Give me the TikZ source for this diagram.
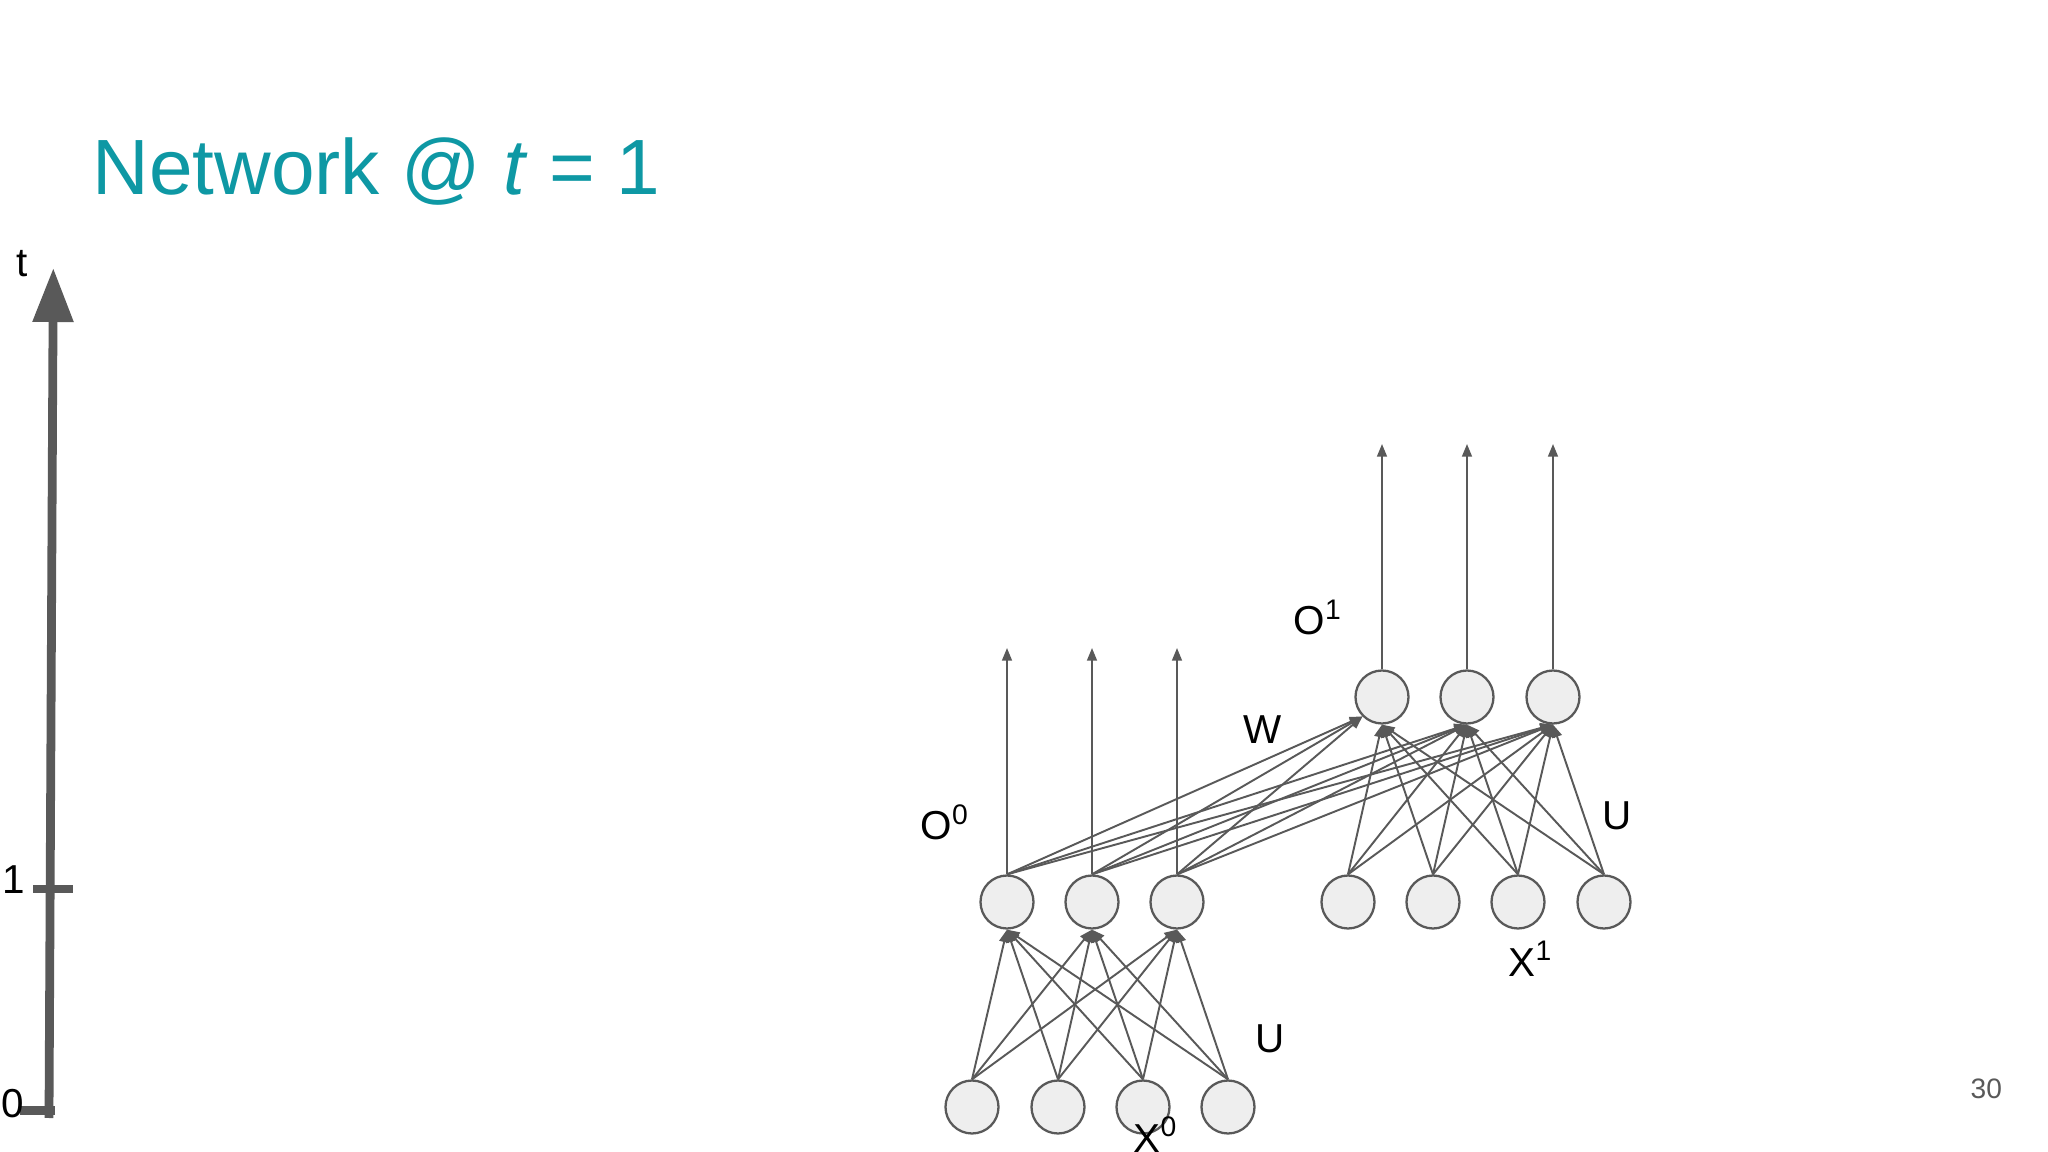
\documentclass[tikz,border=0pt]{standalone}
\usepackage{fontspec}
\setmainfont{Liberation Sans}
\usepackage{xcolor}
\usetikzlibrary{arrows.meta, positioning}
\definecolor{slideteal}{RGB}{14,152,164}
\definecolor{wiregray}{RGB}{89,89,89}
\definecolor{cellfill}{RGB}{238,238,238}

\begin{document}
\begin{tikzpicture}[
        neuron/.style={circle, draw=wiregray, line width=0.65pt, fill=cellfill, minimum size=0.53cm, inner sep=0pt},
        wire/.style={draw=wiregray, line width=0.55pt, -{Triangle[width=2.8pt, length=3.6pt]}},
        lbl/.style={anchor=base west, inner sep=0pt, font=\fontsize{11.5}{13}\selectfont},
        axisline/.style={draw=wiregray, line width=2.5pt},
        every edge/.style=wire
    ]
        \useasboundingbox (0, 0) rectangle (20.48, -11.52);

        % title
        \node[anchor=base west, inner sep=0pt, text=slideteal, font=\fontsize{22.3}{26}\selectfont] (title) at (.92, -1.95) {Network @ \textit{t} = 1};

        % time axis
        \coordinate (tbot) at (.49, -11.18);
        \coordinate (ttop) at (.533, -2.68);
        \coordinate (tick1l) at (.33, -8.89);
        \coordinate (tick1r) at (.73, -8.89);
        \coordinate (tick0l) at (.20, -11.107);
        \coordinate (tick0r) at (.55, -11.107);
        \draw[axisline, -{Triangle[width=.39cm, length=.54cm]}] (tbot) to (ttop);
        \draw[axisline] (tick1l) to (tick1r)
            (tick0l) to (tick0r);
        \node[lbl] (tlab) at (.16, -2.77) {t};
        \node[lbl] (onelab) at (.02, -8.93) {1};
        \node[lbl] (zerolab) at (.01, -11.17) {0};

        % inputs and outputs at t = 0
        \node[neuron] (x0a) at (9.72, -11.07) {};
        \node[neuron] (x0b) at (10.58, -11.07) {};
        \node[neuron] (x0c) at (11.43, -11.07) {};
        \node[neuron] (x0d) at (12.28, -11.07) {};
        \node[neuron] (o0a) at (10.07, -9.02) {};
        \node[neuron] (o0b) at (10.92, -9.02) {};
        \node[neuron] (o0c) at (11.77, -9.02) {};

        % inputs and outputs at t = 1
        \node[neuron] (x1a) at (13.48, -9.02) {};
        \node[neuron] (x1b) at (14.33, -9.02) {};
        \node[neuron] (x1c) at (15.18, -9.02) {};
        \node[neuron] (x1d) at (16.04, -9.02) {};
        \node[neuron] (o1a) at (13.82, -6.97) {};
        \node[neuron] (o1b) at (14.67, -6.97) {};
        \node[neuron] (o1c) at (15.53, -6.97) {};

        \coordinate (o0aup) at (10.07, -6.48);
        \coordinate (o0bup) at (10.92, -6.48);
        \coordinate (o0cup) at (11.77, -6.48);
        \coordinate (o1aup) at (13.82, -4.44);
        \coordinate (o1bup) at (14.67, -4.44);
        \coordinate (o1cup) at (15.53, -4.44);

        % U at t = 0
        \path (x0a.north) edge (o0a.south) edge (o0b.south) edge (o0c.south)
            (x0b.north) edge (o0a.south) edge (o0b.south) edge (o0c.south)
            (x0c.north) edge (o0a.south) edge (o0b.south) edge (o0c.south)
            (x0d.north) edge (o0a.south) edge (o0b.south) edge (o0c.south);
        % U at t = 1
        \path (x1a.north) edge (o1a.south) edge (o1b.south) edge (o1c.south)
            (x1b.north) edge (o1a.south) edge (o1b.south) edge (o1c.south)
            (x1c.north) edge (o1a.south) edge (o1b.south) edge (o1c.south)
            (x1d.north) edge (o1a.south) edge (o1b.south) edge (o1c.south);
        % W
        \path (o0a.north) edge (o1a.south west) edge (o1b.south) edge (o1c.south)
            (o0b.north) edge (o1a.south west) edge (o1b.south) edge (o1c.south)
            (o0c.north) edge (o1a.south west) edge (o1b.south) edge (o1c.south);
        % outputs
        \path (o0a.north) edge (o0aup)
            (o0b.north) edge (o0bup)
            (o0c.north) edge (o0cup)
            (o1a.north) edge (o1aup)
            (o1b.north) edge (o1bup)
            (o1c.north) edge (o1cup);

        \node[lbl] (o0lab) at (9.20, -8.40) {O\textsuperscript{0}};
        \node[lbl] (o1lab) at (12.93, -6.35) {O\textsuperscript{1}};
        \node[lbl] (wlab) at (12.43, -7.43) {W};
        \node[lbl] (u1lab) at (16.02, -8.29) {U};
        \node[lbl] (u0lab) at (12.55, -10.52) {U};
        \node[lbl] (x1lab) at (15.08, -9.76) {X\textsuperscript{1}};
        \node[lbl] (x0lab) at (11.33, -11.52) {X\textsuperscript{0}};

        \node[anchor=base west, inner sep=0pt, text=wiregray, font=\fontsize{8}{10}\selectfont] (pagenum) at (19.70, -10.98) {30};
    \end{tikzpicture}
\end{document}
